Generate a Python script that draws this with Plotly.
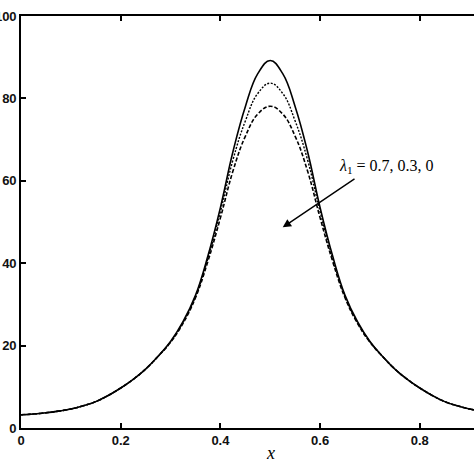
import plotly.graph_objects as go

# x grid
x_vals = [0.0, 0.025, 0.05, 0.075, 0.1, 0.125, 0.15, 0.175, 0.2, 0.225, 0.25, 0.275,
          0.3, 0.325, 0.35, 0.375, 0.4, 0.425, 0.45, 0.475, 0.5,
          0.525, 0.55, 0.575, 0.6, 0.625, 0.65, 0.675, 0.7, 0.725, 0.75, 0.775,
          0.8, 0.825, 0.85, 0.875, 0.9, 0.925, 0.95, 0.975, 1.0]

# lambda_1 = 0.7 (solid)
y_l07 = [3.2, 3.4, 3.7, 4.1, 4.6, 5.4, 6.4, 7.9, 9.7, 11.8, 14.3, 17.4,
         21.0, 25.8, 32.2, 41.8, 53.5, 67.0, 78.0, 86.0, 89.2,
         86.0, 78.0, 67.0, 53.5, 41.8, 32.2, 25.8, 21.0, 17.4, 14.3, 11.8,
         9.7, 7.9, 6.4, 5.4, 4.6, 4.1, 3.7, 3.4, 3.2]

# lambda_1 = 0.3 (dotted)
y_l03 = [3.2, 3.4, 3.7, 4.1, 4.6, 5.4, 6.4, 7.9, 9.7, 11.8, 14.3, 17.4,
         20.9, 25.6, 31.9, 41.2, 52.5, 65.0, 74.5, 81.2, 83.7,
         81.2, 74.5, 65.0, 52.5, 41.2, 31.9, 25.6, 20.9, 17.4, 14.3, 11.8,
         9.7, 7.9, 6.4, 5.4, 4.6, 4.1, 3.7, 3.4, 3.2]

# lambda_1 = 0 (dashed)
y_l00 = [3.2, 3.4, 3.7, 4.1, 4.6, 5.4, 6.4, 7.9, 9.7, 11.8, 14.3, 17.4,
         20.8, 25.4, 31.6, 40.5, 51.0, 62.3, 70.8, 76.2, 78.1,
         76.2, 70.8, 62.3, 51.0, 40.5, 31.6, 25.4, 20.8, 17.4, 14.3, 11.8,
         9.7, 7.9, 6.4, 5.4, 4.6, 4.1, 3.7, 3.4, 3.2]

x_ticks = [0, 0.2, 0.4, 0.6, 0.8]
x_tick_text = ["0", "0.2", "0.4", "0.6", "0.8"]
y_ticks = [0, 20, 40, 60, 80, 100]
y_tick_text = ["0", "20", "40", "60", "80", "100"]

fig = go.Figure()
fig.add_trace(go.Scatter(x=x_vals, y=y_l07, mode="lines",
                         line=dict(color="black", width=1.6, shape="spline", smoothing=1.2)))
fig.add_trace(go.Scatter(x=x_vals, y=y_l03, mode="lines",
                         line=dict(color="black", width=1.4, dash="2px,1.5px",
                                   shape="spline", smoothing=1.2)))
fig.add_trace(go.Scatter(x=x_vals, y=y_l00, mode="lines",
                         line=dict(color="black", width=1.6, dash="4px,2px",
                                   shape="spline", smoothing=1.2)))

tickfont = dict(family="Arial, Liberation Sans", size=13, color="#111", weight="bold")

fig.update_layout(
    width=474, height=474,
    margin=dict(l=21, r=0, t=16, b=46, autoexpand=False),
    paper_bgcolor="white", plot_bgcolor="white",
    showlegend=False,
    xaxis=dict(range=[0, 0.9087], tickvals=x_ticks, ticktext=x_tick_text,
               ticks="inside", ticklen=5, tickwidth=1.5, tickcolor="black",
               showline=True, linecolor="black", linewidth=1.6, mirror="ticks",
               showgrid=False, zeroline=False, tickfont=tickfont, automargin=False),
    yaxis=dict(range=[0, 100], tickvals=y_ticks, ticktext=y_tick_text,
               ticks="inside", ticklen=5, tickwidth=1.5, tickcolor="black",
               showline=True, linecolor="black", linewidth=1.6, mirror=False,
               showgrid=False, zeroline=False, tickfont=tickfont,
               ticklabelstandoff=0, automargin=False),
    annotations=[
        dict(x=0.5, y=0, xref="x", yref="paper", yshift=-37, text="<i>x</i>",
             showarrow=False, font=dict(family="Liberation Serif", size=18, color="black")),
        dict(x=0.734, y=63.4, xref="x", yref="y",
             text="<i>λ</i><sub>1</sub> = 0.7, 0.3, 0", showarrow=False,
             font=dict(family="Liberation Serif", size=16, color="black")),
        dict(x=0.525, y=48.7, ax=0.672, ay=60.7, xref="x", yref="y",
             axref="x", ayref="y", text="", showarrow=True,
             arrowhead=2, arrowsize=1.2, arrowwidth=1.4, arrowcolor="black"),
    ],
)

fig.write_html("out.html",
               config={"displayModeBar": False},
               post_script="document.body.style.margin='0';document.body.style.overflow='hidden';")
